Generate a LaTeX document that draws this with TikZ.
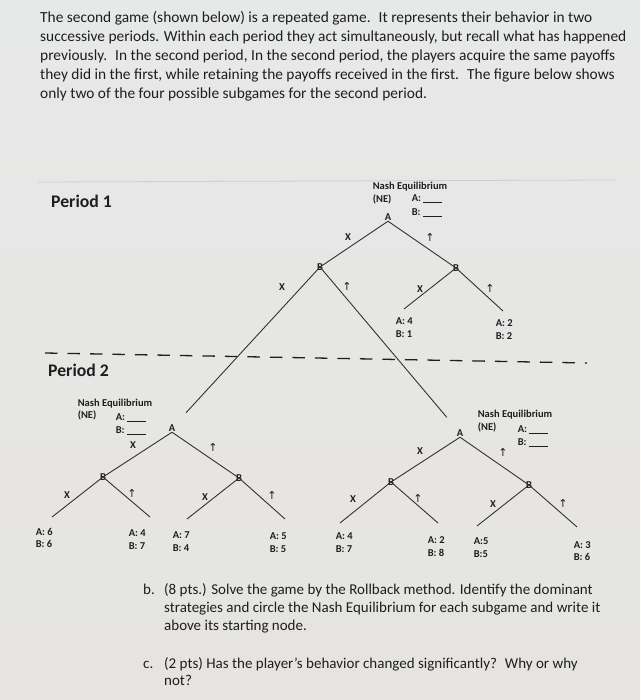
\documentclass[tikz,border=0pt]{standalone}
\usepackage{fontspec}
\setmainfont{Carlito}
\newfontfamily\arrowfont{DejaVu Sans}
\usetikzlibrary{calc}

\definecolor{paper}{RGB}{231,232,232}
\definecolor{paperlow}{RGB}{229,228,225}
\definecolor{ink}{RGB}{30,30,30}
\definecolor{branchgray}{RGB}{50,50,50}
\definecolor{rulegray}{RGB}{206,208,209}

\tikzset{
  lbl/.style={font=\fontsize{10.5}{11}\selectfont\bfseries,inner sep=.6pt,text=ink},
  ne/.style={lbl,anchor=west},
  pay/.style={lbl,anchor=west,align=left,font=\fontsize{10.5}{12.8}\selectfont\bfseries},
  upmark/.style={font=\fontsize{11}{12}\selectfont\arrowfont,inner sep=0pt,text=ink},
  branch/.style={draw=branchgray,line width=.9pt},
  para/.style={anchor=base west,inner sep=0pt,text=ink},
}

\begin{document}
\begin{tikzpicture}[x=1pt,y=-1pt]
 \shade[top color=paper,bottom color=paperlow] (0,0) rectangle (640,700);
 \useasboundingbox (0,0) rectangle (640,700);

 \node[para,font=\fontsize{15.4}{18.8}\selectfont] (intro) at (40,23)
   {\begin{tabular}[t]{@{}l@{}}
    The second game (shown below) is a repeated game.~ It represents their behavior in two\\
    successive periods. Within each period they act simultaneously, but recall what has happened\\
    previously.~ In the second period, In the second period, the players acquire the same payoffs\\
    they did in the first, while retaining the payoffs received in the first.~ The figure below shows\\
    only two of the four possible subgames for the second period.
   \end{tabular}};

 \draw[rulegray,line width=.8pt] (38,182) -- (615,180);
 \node[anchor=west,inner sep=0pt,text=ink,font=\fontsize{17.7}{20}\selectfont\bfseries] (per1) at (51,201) {Period 1};
 \draw[ink,line width=1.3pt,dash pattern=on 12.5pt off 10pt] (45,353) -- (587,363);
 \node[anchor=west,inner sep=0pt,text=ink,font=\fontsize{17.7}{20}\selectfont\bfseries] (per2) at (48,370) {Period 2};

 % period 1
 \begin{scope}
  \node[ne] (ne1) at (372,187) {Nash Equilibrium};
  \node[ne] (ne1n) at (372,199) {(NE)};
  \node[ne] (ne1a) at (411,199) {A: \rule[-1.2pt]{19pt}{.6pt}};
  \node[ne] (ne1b) at (411,213) {B: \rule[-1.2pt]{19pt}{.6pt}};
  \node[lbl] (a1) at (388,217) {A};
  \node[lbl] (b1l) at (320,267) {B};
  \node[lbl] (b1r) at (456,268) {B};
  \coordinate (l1c) at (404,309);
  \coordinate (l1d) at (503,311);
  \draw[branch] (a1.south) -- (b1l.center);
  \draw[branch] (a1.south) -- (b1r.center);
  \draw[branch] (b1r.center) -- (l1c);
  \draw[branch] (b1r.center) -- (l1d);
  \node[lbl] at (348,237) {X};
  \node[upmark] at (430,237) {↑};
  \node[lbl] at (282,287) {X};
  \node[upmark] at (347,286) {↑};
  \node[lbl] at (420,289) {X};
  \node[upmark] at (490,288) {↑};
  \node[pay] (p1c) at (395,328) {A: 4\\B: 1};
  \node[pay] (p1d) at (495,329.5) {A: 2\\B: 2};
 \end{scope}

 % period 2, left subgame
 \begin{scope}
  \node[ne] (ne2) at (77,404) {Nash Equilibrium};
  \node[ne] (ne2n) at (77,415) {(NE)};
  \node[ne] (ne2a) at (115,418) {A: \rule[-1.2pt]{19pt}{.6pt}};
  \node[ne] (ne2b) at (115,431) {B: \rule[-1.2pt]{19pt}{.6pt}};
  \node[lbl] (a2l) at (172,428) {A};
  \node[lbl] (b2la) at (103,477) {B};
  \node[lbl] (b2lb) at (239,478) {B};
  \coordinate (l2a) at (52,517);
  \coordinate (l2b) at (150,517);
  \coordinate (l2c) at (187,519);
  \coordinate (l2d) at (285,519);
  \draw[branch] (a2l.south) -- (b2la.center);
  \draw[branch] (a2l.south) -- (b2lb.center);
  \draw[branch] (b2la.center) -- (l2a);
  \draw[branch] (b2la.center) -- (l2b);
  \draw[branch] (b2lb.center) -- (l2c);
  \draw[branch] (b2lb.center) -- (l2d);
  \node[lbl] at (133,445) {X};
  \node[upmark] at (213,447) {↑};
  \node[lbl] at (67,495) {X};
  \node[upmark] at (132,493) {↑};
  \node[lbl] at (205,497) {X};
  \node[upmark] at (272,495) {↑};
  \node[pay] (p2a) at (35,538) {A: 6\\B: 6};
  \node[pay] (p2b) at (128,540) {A: 4\\B: 7};
  \node[pay] (p2c) at (172,541.5) {A: 7\\B: 4};
  \node[pay] (p2d) at (269,543) {A: 5\\B: 5};
 \end{scope}

 % period 2, right subgame
 \begin{scope}
  \node[ne] (ne3) at (477,415) {Nash Equilibrium};
  \node[ne] (ne3n) at (477,427) {(NE)};
  \node[ne] (ne3a) at (517,430) {A: \rule[-1.2pt]{19pt}{.6pt}};
  \node[ne] (ne3b) at (517,443) {B: \rule[-1.2pt]{19pt}{.6pt}};
  \node[lbl] (a2r) at (460,433) {A};
  \node[lbl] (b2ra) at (391,482) {B};
  \node[lbl] (b2rb) at (529,485) {B};
  \coordinate (l3a) at (340,523);
  \coordinate (l3b) at (438,523);
  \coordinate (l3c) at (477,526);
  \coordinate (l3d) at (577,527);
  \draw[branch] (a2r.south) -- (b2ra.center);
  \draw[branch] (a2r.south) -- (b2rb.center);
  \draw[branch] (b2ra.center) -- (l3a);
  \draw[branch] (b2ra.center) -- (l3b);
  \draw[branch] (b2rb.center) -- (l3c);
  \draw[branch] (b2rb.center) -- (l3d);
  \node[lbl] at (420,451) {X};
  \node[upmark] at (503,452) {↑};
  \node[lbl] at (353,499) {X};
  \node[upmark] at (418,498) {↑};
  \node[lbl] at (493,504) {X};
  \node[upmark] at (563,503) {↑};
  \node[pay] (p3a) at (335,543) {A: 4\\B: 7};
  \node[pay] (p3b) at (427,546.5) {A: 2\\B: 8};
  \node[pay] (p3c) at (473,548) {A:5\\B:5};
  \node[pay] (p3d) at (573,551) {A: 3\\B: 6};
 \end{scope}

 \draw[branch,shorten >=15pt] (b1l.center) -- (a2l);
 \draw[branch,shorten >=15pt] (b1l.center) -- (a2r);

 \node[para,font=\fontsize{15}{17.9}\selectfont] (qb) at (143,594.5) {b.};
 \node[para,font=\fontsize{15}{17.9}\selectfont] (qbt) at (164,594.5)
   {\begin{tabular}[t]{@{}l@{}}
    (8 pts.) Solve the game by the Rollback method. Identify the dominant\\
    strategies and circle the Nash Equilibrium for each subgame and write it\\
    above its starting node.
   \end{tabular}};
 \node[para,font=\fontsize{15}{17.5}\selectfont] (qc) at (143,668) {c.};
 \node[para,font=\fontsize{15}{17.5}\selectfont] (qct) at (164,668)
   {\begin{tabular}[t]{@{}l@{}}
    (2 pts) Has the player’s behavior changed significantly?~ Why or why\\
    not?
   \end{tabular}};
\end{tikzpicture}
\end{document}
